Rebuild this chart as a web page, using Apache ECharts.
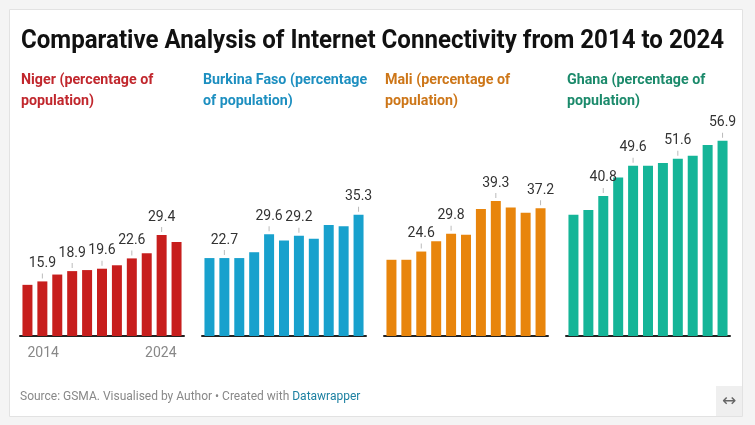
<!DOCTYPE html>
<html>
<head>
<meta charset="utf-8">
<script src="https://cdn.jsdelivr.net/npm/echarts@6/dist/echarts.min.js"></script>
<style>
  html, body { margin: 0; padding: 0; background: #f4f4f4; }
  #main { width: 755px; height: 425px; }
</style>
</head>
<body>
<div id="main"></div>
<script>
  // years on the x axis (only first and last are printed)
  var years = ['2014', '2015', '2016', '2017', '2018', '2019', '2020', '2021', '2022', '2023', '2024'];

  // percentage of population using the internet
  var niger   = [14.9, 15.9, 17.9, 18.9, 19.2, 19.6, 20.6, 22.6, 24.1, 29.4, 27.4];
  var burkina = [22.7, 22.7, 22.7, 24.4, 29.6, 27.8, 29.2, 28.3, 32.3, 32.0, 35.3];
  var mali    = [22.2, 22.2, 24.6, 27.6, 29.8, 29.5, 37.0, 39.3, 37.4, 35.9, 37.2];
  var ghana   = [35.3, 36.7, 40.8, 46.2, 49.6, 49.6, 50.4, 51.6, 52.5, 55.6, 56.9];

  // which bars carry a value label
  var nigerLabels   = [1, 3, 5, 7, 9];
  var burkinaLabels = [1, 4, 6, 10];
  var maliLabels    = [2, 4, 7, 10];
  var ghanaLabels   = [2, 4, 7, 10];

  var panelNames = [
    'Niger (percentage of\npopulation)',
    'Burkina Faso (percentage\nof population)',
    'Mali (percentage of\npopulation)',
    'Ghana (percentage of\npopulation)'
  ];

  var font = 'Roboto, sans-serif';

  var panels = [
    { data: niger,   labels: nigerLabels,   bar: '#c71e1d', head: '#c1272d', left: 20 },
    { data: burkina, labels: burkinaLabels, bar: '#18a1cd', head: '#1d8fc0', left: 202 },
    { data: mali,    labels: maliLabels,    bar: '#e8850c', head: '#cd7618', left: 384 },
    { data: ghana,   labels: ghanaLabels,   bar: '#15b598', head: '#1b8a6b', left: 566 }
  ];

  var chart = echarts.init(document.getElementById('main'));

  var grids = [], xAxes = [], yAxes = [], series = [];

  var graphics = [
    {
      type: 'rect', z: -10, silent: true,
      shape: { x: 9.5, y: 9.5, width: 733, height: 407 },
      style: { fill: '#fff', stroke: '#e2e2e2', lineWidth: 1 }
    },
    {
      // condensed look: Roboto squeezed horizontally
      type: 'text', x: 21, y: 41, scaleX: 0.926,
      style: {
        text: 'Comparative Analysis of Internet Connectivity from 2014 to 2024',
        fontFamily: font, fontWeight: 'bold', fontSize: 26, fill: '#111',
        verticalAlign: 'middle'
      }
    }
  ];

  panels.forEach(function (p, i) {
    grids.push({ left: p.left, top: 130, width: 164, height: 206 });
    xAxes.push({
      type: 'category',
      gridIndex: i,
      data: years,
      axisLine: { lineStyle: { color: '#222', width: 2 } },
      axisTick: { show: false },
      axisLabel: {
        show: i === 0,
        interval: function (idx) { return idx === 0 || idx === years.length - 1; },
        alignMinLabel: 'left',
        alignMaxLabel: 'right',
        margin: 10,
        color: '#888',
        fontFamily: font,
        fontSize: 14
      }
    });
    yAxes.push({ type: 'value', gridIndex: i, min: 0, max: 60, show: false, splitLine: { show: false } });
    series.push({
      type: 'bar',
      xAxisIndex: i,
      yAxisIndex: i,
      barCategoryGap: '33%',
      itemStyle: { color: p.bar },
      label: {
        show: false,
        position: 'top',
        distance: 2,
        formatter: function (prm) { return '{v|' + prm.value + '}\n{t| }'; },
        rich: {
          v: { fontFamily: font, fontSize: 14, color: '#333', lineHeight: 18 },
          t: { width: 1, height: 5, lineHeight: 7, backgroundColor: '#bbb', fontSize: 1 }
        }
      },
      data: p.data.map(function (v, k) {
        return p.labels.indexOf(k) >= 0 ? { value: v, label: { show: true } } : v;
      })
    });
    graphics.push({
      type: 'text', x: p.left + 1, y: 70, scaleX: 0.95,
      style: {
        text: panelNames[i],
        fontFamily: font, fontWeight: 'bold', fontSize: 15, lineHeight: 21,
        fill: p.head, verticalAlign: 'top'
      }
    });
  });

  graphics.push(
    {
      type: 'text', x: 20, y: 397,
      style: {
        text: '{a|Source: GSMA. Visualised by Author • Created with }{b|Datawrapper}',
        verticalAlign: 'middle',
        rich: {
          a: { fontFamily: font, fontSize: 12, fill: '#888' },
          b: { fontFamily: font, fontSize: 12, fill: '#1d81a2' }
        }
      }
    },
    {
      type: 'rect', silent: true,
      shape: { x: 716, y: 386, width: 26, height: 30 },
      style: { fill: '#efefef' }
    },
    {
      type: 'text', x: 729, y: 402,
      style: { text: '↔', fontFamily: '"DejaVu Sans", sans-serif', fontSize: 17, fill: '#666', align: 'center', verticalAlign: 'middle' }
    }
  );

  chart.setOption({
    backgroundColor: '#f4f4f4',
    animation: false,
    grid: grids,
    xAxis: xAxes,
    yAxis: yAxes,
    series: series,
    graphic: graphics
  });
</script>
</body>
</html>
